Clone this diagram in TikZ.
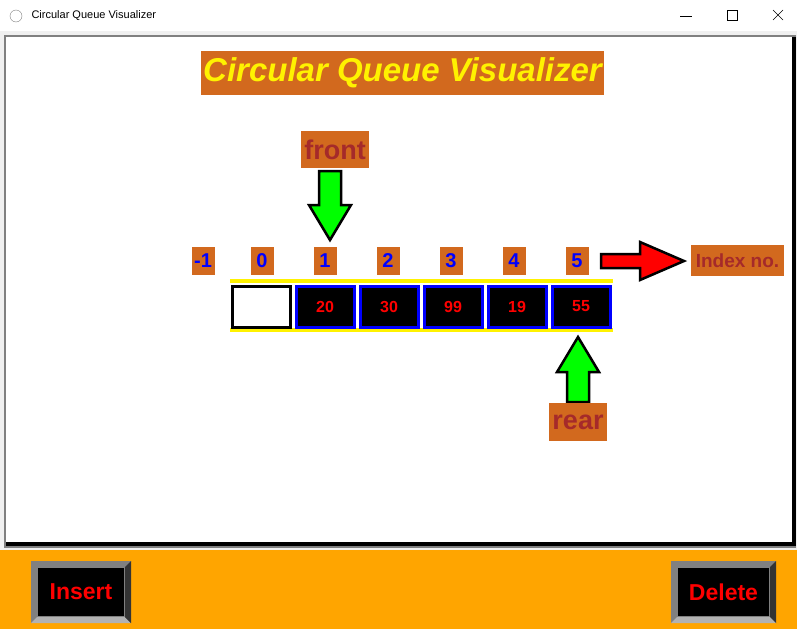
\documentclass[tikz,border=0pt]{standalone}
\usepackage{fontspec}
\setmainfont{Liberation Sans}
\begin{document}
\begin{tikzpicture}[x=1pt,y=-1pt,
  lbl/.style={fill=orange1,inner sep=0pt,font=\bfseries},
  idx/.style={lbl,minimum width=23pt,minimum height=28pt,text=blue,font=\bfseries\fontsize{20}{20}\selectfont},
  cell/.style={draw=blue,line width=3pt,fill=black,minimum width=58pt,minimum height=41pt,text=red,font=\bfseries\fontsize{16}{16}\selectfont},
  arr/.style={draw=black,line width=2.5pt,line join=miter}]
\definecolor{orange1}{RGB}{210,105,30}
\definecolor{brown1}{RGB}{165,42,42}
\definecolor{gold1}{RGB}{255,165,0}
\useasboundingbox (0,0) rectangle (797,629);
\fill[white] (0,0) rectangle (797,629);
% title bar
\draw[gray] (16,16) circle (6pt);
\node[anchor=west,font=\fontsize{11}{11}\selectfont] (wt) at (28,16) {Circular Queue Visualizer};
\draw (680,16) -- (692,16);
\draw (727,10) rectangle (737,20);
\draw (773,10) -- (783,20) (773,20) -- (783,10);
% window frame
\fill[black!6] (0,31) rectangle (797,550);
\fill[gray] (4,35) rectangle (796,548);
\fill[black] (6,37) rectangle (796,546);
\fill[white] (6,37) rectangle (792,542);
\fill[gold1] (0,550) rectangle (797,629);
% title
\node[lbl,minimum width=403pt,minimum height=44pt,text=yellow,font=\bfseries\itshape\fontsize{33}{33}\selectfont] (title) at (402.5,73) {Circular Queue Visualizer};
% front
\node[lbl,minimum width=68pt,minimum height=37pt,text=brown1,font=\bfseries\fontsize{27}{27}\selectfont] (front) at (335,149.5) {front};
\draw[arr,fill=green] (319,171) -- (341,171) -- (341,205) -- (351,205) -- (330,240) -- (309,205) -- (319,205) -- cycle;
% indices
\foreach \n/\x/\t in {m1/203/-1,i0/262/0,i1/325/1,i2/388/2,i3/451/3,i4/514/4,i5/577/5}
  \node[idx] (\n) at (\x,261) {\t};
% cells
\draw[yellow,line width=4pt] (230,281) -- (613,281) (230,330) -- (613,330);
\node[draw=black,line width=3pt,fill=white,minimum width=58pt,minimum height=41pt,inner sep=0pt] (c0) at (261.5,306.5) {};
\foreach \n/\x/\t in {c1/325/20,c2/389/30,c3/453/99,c4/517/19,c5/581/55}
  \node[cell] (\n) at (\x,306.5) {\t};
% index no arrow
\draw[arr,fill=red] (601,254) -- (640,254) -- (640,242) -- (684,261) -- (640,280) -- (640,268) -- (601,268) -- cycle;
\node[lbl,minimum width=93pt,minimum height=31pt,text=brown1,font=\bfseries\fontsize{19}{19}\selectfont] (ino) at (737.5,260.5) {Index no.};
% rear
\draw[arr,fill=green] (567,402) -- (589,402) -- (589,372) -- (599,372) -- (578,337) -- (557,372) -- (567,372) -- cycle;
\node[lbl,minimum width=58pt,minimum height=38pt,text=brown1,font=\bfseries\fontsize{27}{27}\selectfont] (rear) at (578,422) {rear};
% buttons
\foreach \n/\a/\b/\t in {ins/31/131/Insert,del/671/776/Delete}{
  \fill[black!50] (\a,561) rectangle (\b,623);
  \fill[black!30] (\a+6,617) -- (\b-6,617) -- (\b,623) -- (\a,623) -- cycle;
  \fill[black!60!gray] (\b-6,567) -- (\b,561) -- (\b,623) -- (\b-6,617) -- cycle;
  \node[fill=black,minimum width=\b-\a-14,minimum height=48pt,inner sep=0pt,text=red,font=\bfseries\fontsize{23}{23}\selectfont] (\n) at ({(\a+\b)/2},592) {\t};
}
\end{tikzpicture}
\end{document}
